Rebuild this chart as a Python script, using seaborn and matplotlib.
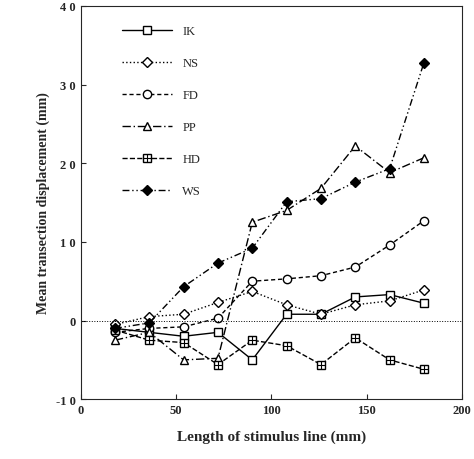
import matplotlib
matplotlib.use("Agg")
import matplotlib.pyplot as plt
import seaborn as sns
import pandas as pd

x = [18, 36, 54, 72, 90, 108, 126, 144, 162, 180]
ik = [-1, -1.5, -2, -1.5, -5, 0.8, 0.8, 3, 3.3, 2.2]
ns = [-0.5, 0.5, 0.8, 2.3, 3.7, 2, 0.8, 2, 2.5, 3.9]
fd = [-1.5, -1, -0.8, 0.3, 5, 5.3, 5.7, 6.8, 9.6, 12.7]
pp = [-2.5, -1.5, -5, -4.8, 12.5, 14, 16.8, 22.2, 18.8, 20.7]
hd = [-1.2, -2.5, -2.8, -5.6, -2.5, -3.2, -5.6, -2.2, -5, -6.2]
ws = [-1, -0.3, 4.3, 7.3, 9.2, 15.1, 15.5, 17.6, 19.3, 32.8]

names = ["IK", "NS", "FD", "PP", "HD", "WS"]
series = [ik, ns, fd, pp, hd, ws]
styles = {
    "IK": dict(ls="-", marker="s", mfc="white"),
    "NS": dict(ls=":", marker="D", mfc="white", ms=5),
    "FD": dict(ls=(0, (3, 2)), marker="o", mfc="white"),
    "PP": dict(ls=(0, (6, 2, 1, 2)), marker="^", mfc="white"),
    "HD": dict(ls="--", marker="s", mfc="white"),
    "WS": dict(ls=(0, (5, 2, 1, 2, 1, 2)), marker="D", mfc="black", ms=5),
}

df = pd.DataFrame({"x": x * len(names),
                   "y": sum(series, []),
                   "s": [n for n in names for _ in x]})

sns.set_style("ticks")
plt.rcParams["font.family"] = ["Liberation Serif", "DejaVu Serif"]
fig, ax = plt.subplots(figsize=(4.74, 4.60), dpi=100)

handles = []
for n in names:
    d = df[df.s == n]
    st = dict(ms=6, color="black", mec="black", lw=1)
    st.update(styles[n])
    h, = ax.plot(d.x, d.y, **st)
    if n == "HD":
        p, = ax.plot(d.x, d.y, ls="none", marker="+", ms=6, mew=0.8, color="black")
        h = (h, p)
    handles.append(h)

ax.axhline(0, color="black", lw=0.7, ls=":")
ax.set_xlim(0, 200)
ax.set_ylim(-10, 40)
ax.set_xticks([0, 50, 100, 150, 200])
ax.set_yticks([-10, 0, 10, 20, 30, 40])
ax.set_yticklabels(["-1 0", "0", "1 0", "2 0", "3 0", "4 0"])
for t in ax.get_xticklabels() + ax.get_yticklabels():
    t.set_fontweight("bold")
ax.set_xlabel("Length of stimulus line (mm)", fontweight="bold", fontsize=11, labelpad=10)
ax.set_ylabel("Mean transection displacement (mm)", fontweight="bold", fontsize=10)
ax.tick_params(direction="in", labelsize=9)
ax.legend(handles, names, loc="upper left", bbox_to_anchor=(0.08, 0.98), frameon=False,
          handlelength=4, labelspacing=1.6, fontsize=9)
fig.subplots_adjust(left=0.17, right=0.975, top=0.985, bottom=0.13)
fig.savefig("out.png")
